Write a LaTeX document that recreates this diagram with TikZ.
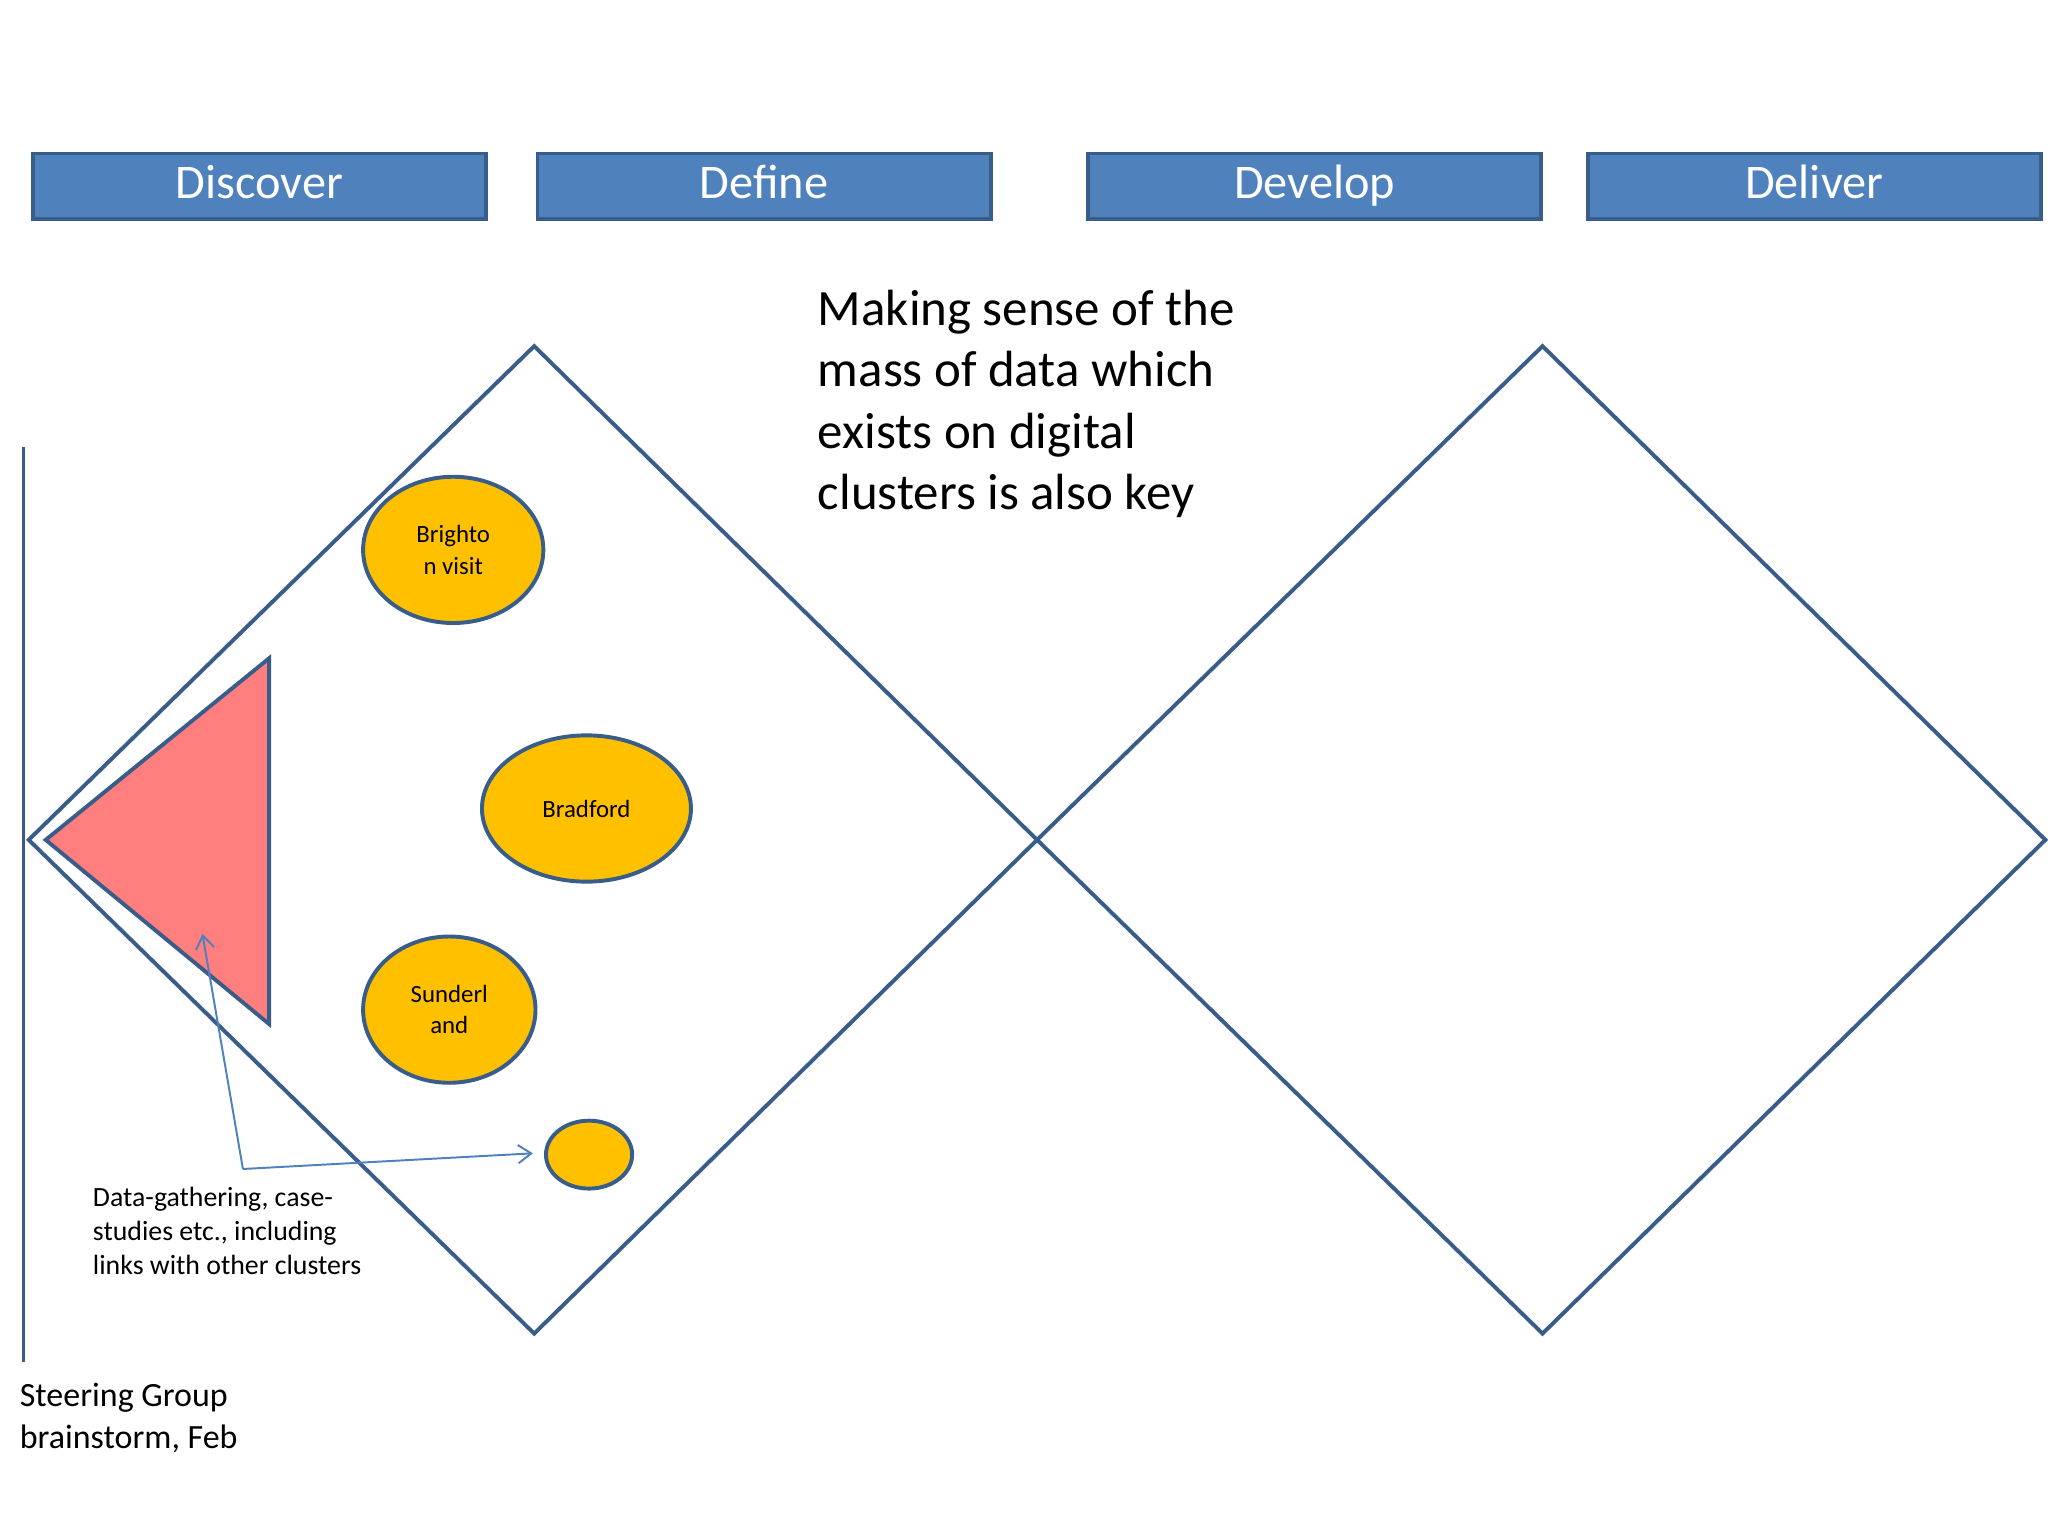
\documentclass[tikz,border=0pt]{standalone}
\usepackage{fontspec}
\setmainfont{Carlito}
\usetikzlibrary{arrows.meta}
\definecolor{hdr}{HTML}{4F81BD}
\definecolor{dk}{HTML}{385D8A}
\definecolor{org}{HTML}{FFC000}
\definecolor{tri}{HTML}{FF7F7F}
\begin{document}
\begin{tikzpicture}[x=1pt,y=-1pt,
 hbox/.style={draw=dk,line width=3pt,fill=hdr,minimum width=347pt,minimum height=50pt,text=white,font=\fontsize{37}{40}\selectfont,inner sep=0,text height=26pt,text depth=7pt},
 blob/.style={draw=dk,line width=3pt,fill=org},
 lbl/.style={font=\fontsize{19}{24}\selectfont,align=center},
 dia/.style={draw=dk,line width=3pt,line join=miter},
 arr/.style={draw=hdr,line width=1.5pt,-{Straight Barb[length=10pt,width=14pt]}}]
\useasboundingbox (0,0) rectangle (1568,1176);
\node[hbox] (h1) at (198.5,142.5) {Discover};
\node[hbox] (h2) at (585,142.5) {Define};
\node[hbox] (h3) at (1006.5,142.5) {Develop};
\node[hbox] (h4) at (1389,142.5) {Deliver};
\draw[dia] (409,265) -- (794,643) -- (409,1021) -- (22,643) -- cycle;
\draw[dia] (1181,265) -- (1566,643) -- (1181,1021) -- (794,643) -- cycle;
\draw[dk,line width=2pt] (18,342) -- (18,1043);
\draw[draw=dk,line width=3pt,fill=tri,line join=miter] (35,643) -- (206,504) -- (206,784) -- cycle;
\path[blob] (347,421) ellipse[x radius=69,y radius=56];
\node[lbl] (b1) at (347,421) {Brighto\\n visit};
\path[blob] (449,619) ellipse[x radius=80,y radius=56];
\node[lbl] (b2) at (449,619) {Bradford};
\path[blob] (344,773) ellipse[x radius=66,y radius=56];
\node[lbl] (b3) at (344,773) {Sunderl\\and};
\path[blob] (451,884) ellipse[x radius=33,y radius=26];
\coordinate (j) at (186,895);
\coordinate (t1) at (155,715);
\coordinate (t2) at (408,883);
\draw[arr] (j) -- (t1);
\draw[arr] (j) -- (t2);
\node[anchor=north west,align=left,font=\fontsize{21.3}{26}\selectfont,inner sep=0] (d) at (71,909) {Data-gathering, case-\\studies etc., including\\links with other clusters};
\node[anchor=north west,align=left,font=\fontsize{26}{32}\selectfont,inner sep=0] (s) at (15,1059) {Steering Group\\brainstorm, Feb};
\node[anchor=north west,align=left,font=\fontsize{39}{47}\selectfont,inner sep=0] (m) at (626,222) {Making sense of the\\mass of data which\\exists on digital\\clusters is also key};
\end{tikzpicture}
\end{document}
